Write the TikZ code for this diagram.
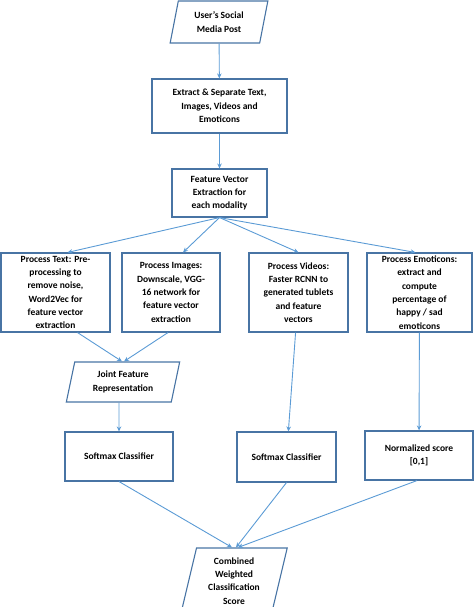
\documentclass[tikz,border=0pt]{standalone}
\usepackage{fontspec}
\setmainfont{Carlito}
\usetikzlibrary{arrows.meta, shapes.geometric}

\definecolor{boxline}{RGB}{72,116,164}
\definecolor{flowline}{RGB}{91,155,213}

\begin{document}
\begin{tikzpicture}[x=1pt, y=-1pt,
		every node/.style={font=\bfseries\fontsize{9.5}{13.3}\selectfont, align=center, inner sep=1pt},
		box/.style={draw=boxline, line width=1.1pt, rectangle},
		io/.style={draw=boxline, line width=1.1pt, trapezium, trapezium left angle=77, trapezium right angle=103, trapezium stretches=true},
		flow/.style={draw=flowline, line width=0.9pt, -{Stealth[length=5pt, width=4.5pt]}}]
		\clip (0,0) rectangle (474,607);
		
		\node[io, minimum width=98pt, minimum height=42pt]    (post)     at (219,22)     {User's Social\\Media Post};
		\node[box, minimum width=135pt, minimum height=54pt]  (extract)  at (219.5,106)  {Extract \& Separate Text,\\Images, Videos and\\Emoticons};
		\node[box, minimum width=95pt, minimum height=48pt]   (feature)  at (219.5,193)  {Feature Vector\\Extraction for\\each modality};
		
		\node[box, minimum width=109pt, minimum height=79pt]  (text)     at (55.5,292.5) {Process Text: Pre-\\processing to\\remove noise,\\Word2Vec for\\feature vector\\extraction};
		\node[box, minimum width=98pt, minimum height=79pt]   (images)   at (171,292.5)  {Process Images:\\Downscale, VGG-\\16 network for\\feature vector\\extraction};
		\node[box, minimum width=99pt, minimum height=79pt]   (videos)   at (298.5,292.5) {Process Videos:\\Faster RCNN to\\generated tublets\\and feature\\vectors};
		\node[box, minimum width=105pt, minimum height=79pt]  (emoji)    at (419.5,292.5) {Process Emoticons:\\extract and\\compute\\percentage of\\happy / sad\\emoticons};
		
		\node[io, minimum width=114pt, minimum height=40pt]   (joint)    at (123,382)    {Joint Feature\\Representation};
		\node[box, minimum width=108pt, minimum height=49pt]  (soft 1)   at (119,456.5)  {Softmax Classifier};
		\node[box, minimum width=99pt, minimum height=50pt]   (soft 2)   at (286.5,457)  {Softmax Classifier};
		\node[box, minimum width=108pt, minimum height=49pt]  (norm)     at (419,455.5)  {Normalized score\\{[0,1]}};
		\node[io, minimum width=107pt, minimum height=66pt]   (combined) at (234,581)    {Combined\\Weighted\\Classification\\Score};
		
		\draw[flow] (post) -- (extract);
		\draw[flow] (extract) -- (feature);
		\draw[flow] (feature.south) -- ([xshift=12pt]text.north);
		\draw[flow] (feature.south) -- ([xshift=12pt]images.north);
		\draw[flow] (feature.south) -- (videos.north);
		\draw[flow] (feature.south) -- ([xshift=-4pt]emoji.north);
		\draw[flow] ([xshift=22pt]text.south) -- ([xshift=-1pt]joint.north);
		\draw[flow] ([xshift=-3pt]images.south) -- ([xshift=1pt]joint.north);
		\draw[flow] ([xshift=-4pt]joint.south) -- (soft 1);
		\draw[flow] (videos) -- (soft 2);
		\draw[flow] (emoji) -- (norm);
		\draw[flow] (soft 1.south) -- ([xshift=-2pt]combined.north);
		\draw[flow] (soft 2.south) -- ([xshift=2pt]combined.north);
		\draw[flow] ([xshift=-2pt]norm.south) -- ([xshift=4pt]combined.north);
	\end{tikzpicture}
\end{document}
